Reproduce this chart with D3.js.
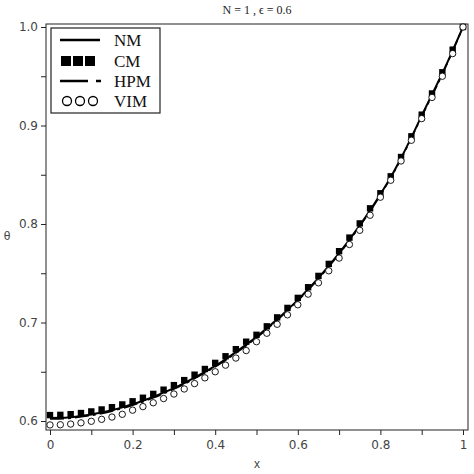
<!DOCTYPE html><html><head><script src="https://cdn.jsdelivr.net/npm/d3@7"></script>
<style>body{margin:0;background:#fff}</style></head><body><svg id="c" width="474" height="474"></svg>
<script>
const xs41 = d3.range(41).map(i => i/40);
const xs21 = d3.range(21).map(i => i/20);
const NM = [0.6030,0.6032,0.6039,0.6051,0.6067,0.6087,0.6110,0.6138,0.6170,0.6206,0.6245,0.6288,0.6334,0.6385,0.6440,0.6498,0.6560,0.6627,0.6699,0.6775,0.6855,0.6941,0.7032,0.7128,0.7230,0.7338,0.7453,0.7575,0.7704,0.7842,0.7986,0.8139,0.8302,0.8474,0.8670,0.8880,0.9100,0.9315,0.9530,0.9760,1.0];
const CM = [0.6060,0.6062,0.6069,0.6081,0.6097,0.6117,0.6140,0.6168,0.6200,0.6236,0.6275,0.6318,0.6364,0.6415,0.6470,0.6528,0.6590,0.6657,0.6729,0.6805,0.6875,0.6961,0.7052,0.7148,0.7250,0.7358,0.7473,0.7595,0.7724,0.7862,0.8006,0.8159,0.8312,0.8484,0.8680,0.8890,0.9110,0.9325,0.9540,0.9770,1.0];
const VIM = [0.5960,0.5962,0.5969,0.5981,0.5997,0.6017,0.6040,0.6068,0.6110,0.6146,0.6185,0.6228,0.6274,0.6325,0.6380,0.6438,0.6500,0.6567,0.6639,0.6715,0.6805,0.6891,0.6982,0.7078,0.7180,0.7288,0.7403,0.7525,0.7654,0.7792,0.7936,0.8089,0.8272,0.8444,0.8640,0.8850,0.9070,0.9285,0.9500,0.9730,1.0];
const HPM = [0.6020,0.6029,0.6057,0.6100,0.6160,0.6235,0.6324,0.6430,0.6550,0.6689,0.6845,0.7022,0.7220,0.7443,0.7694,0.7976,0.8292,0.8660,0.9090,0.9520,1.0];
const xTicks = [0,0.2,0.4,0.6,0.8,1], xTickLabels = ["0","0.2","0.4","0.6","0.8","1"];
const yTicks = [0.6,0.7,0.8,0.9,1.0], yTickLabels = ["0.6","0.7","0.8","0.9","1.0"];
const legendNames = ["NM","CM","HPM","VIM"];

const svg = d3.select("#c");
const x = d3.scaleLinear().domain([0,1]).range([50,463]);
const y = d3.scaleLinear().domain([0.6,1.0]).range([421,27]);
const gray = "#444";
svg.append("rect").attr("x",46).attr("y",24).attr("width",422).attr("height",406).attr("fill","none").attr("stroke","#222");
svg.append("g").attr("transform","translate(0,430)")
 .call(d3.axisBottom(x).tickValues(d3.range(11).map(i=>i/10)).tickSize(5).tickFormat(d=>{const k=xTicks.findIndex(t=>Math.abs(t-d)<1e-9);return k>=0?xTickLabels[k]:"";}))
 .call(g=>{g.select(".domain").remove();g.selectAll("text").attr("font-family","DejaVu Sans").attr("font-size",12).attr("fill",gray).attr("dy","0.9em");g.selectAll("line").attr("stroke","#222");});
svg.append("g").attr("transform","translate(46,0)")
 .call(d3.axisLeft(y).tickValues(d3.range(9).map(i=>0.6+i*0.05)).tickSize(5).tickFormat(d=>{const k=yTicks.findIndex(t=>Math.abs(t-d)<1e-9);return k>=0?yTickLabels[k]:"";}))
 .call(g=>{g.select(".domain").remove();g.selectAll("text").attr("font-family","DejaVu Sans").attr("font-size",12).attr("fill",gray);g.selectAll("line").attr("stroke","#222");});
svg.append("text").attr("x",257).attr("y",14).attr("text-anchor","middle").attr("font-family","Liberation Serif").attr("font-size",12).attr("fill","#222").text("N = 1 , ϵ = 0.6");
svg.append("text").attr("x",257).attr("y",468).attr("text-anchor","middle").attr("font-family","Liberation Sans").attr("font-size",12).attr("fill",gray).text("x");
svg.append("text").attr("x",7).attr("y",240).attr("text-anchor","middle").attr("font-family","Liberation Sans").attr("font-size",12).attr("fill",gray).text("θ");

const line = d3.line().curve(d3.curveMonotoneX);
svg.append("path").attr("d",line(xs41.map((d,i)=>[x(d),y(NM[i])]))).attr("fill","none").attr("stroke","#000").attr("stroke-width",2);
svg.append("path").attr("d",line(xs21.map((d,i)=>[x(d),y(HPM[i])]))).attr("fill","none").attr("stroke","#000").attr("stroke-width",1.6).attr("stroke-dasharray","14,4,3,4");
svg.selectAll(".cm").data(xs41).join("rect").attr("x",(d)=>x(d)-3.2).attr("y",(d,i)=>y(CM[i])-3.2).attr("width",6.4).attr("height",6.4).attr("fill","#000");
svg.selectAll(".vim").data(xs41).join("circle").attr("cx",d=>x(d)).attr("cy",(d,i)=>y(VIM[i])).attr("r",3.2).attr("fill","#fff").attr("stroke","#000").attr("stroke-width",0.9);

const lg = svg.append("g");
lg.append("rect").attr("x",51).attr("y",28).attr("width",109).attr("height",85).attr("fill","#fff").attr("stroke","#222").attr("stroke-width",1.2);
const ly = [40,61,81,101];
lg.append("line").attr("x1",60).attr("x2",100).attr("y1",ly[0]).attr("y2",ly[0]).attr("stroke","#000").attr("stroke-width",2.5);
[66,78,90].forEach(cx=>lg.append("rect").attr("x",cx-5).attr("y",ly[1]-5).attr("width",10).attr("height",10).attr("fill","#000"));
lg.append("line").attr("x1",60).attr("x2",88).attr("y1",ly[2]).attr("y2",ly[2]).attr("stroke","#000").attr("stroke-width",2.5);
lg.append("line").attr("x1",96).attr("x2",101).attr("y1",ly[2]).attr("y2",ly[2]).attr("stroke","#000").attr("stroke-width",2.5);
[67,80,93].forEach(cx=>lg.append("circle").attr("cx",cx).attr("cy",ly[3]).attr("r",4.5).attr("fill","#fff").attr("stroke","#000").attr("stroke-width",1.3));
legendNames.forEach((n,i)=>lg.append("text").attr("x",114).attr("y",ly[i]+6).attr("font-family","Liberation Serif").attr("font-size",17).attr("fill","#111").text(n));
</script></body></html>
